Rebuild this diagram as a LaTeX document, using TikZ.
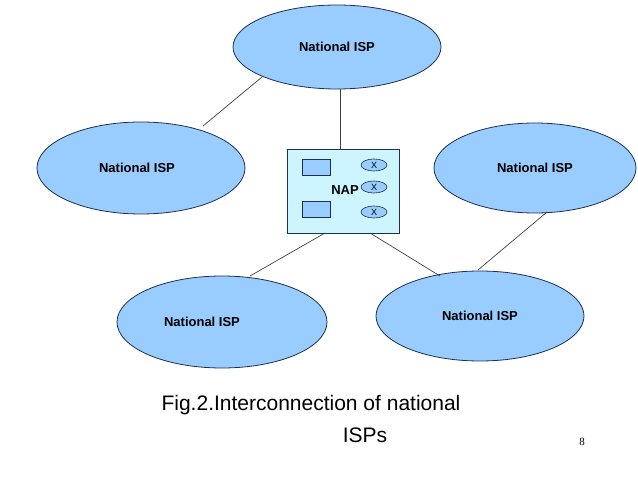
\documentclass[tikz,border=0pt]{standalone}
\usepackage{fontspec}
\setmainfont{Liberation Sans}
\newfontfamily\seriff{Liberation Serif}
\usetikzlibrary{shapes.geometric}
\definecolor{ellfill}{HTML}{99CCFF}
\definecolor{boxfill}{HTML}{CCF5FF}
\definecolor{edge}{HTML}{1F2F4F}
\begin{document}
\begin{tikzpicture}[x=1pt,y=-1pt,
  isp/.style={ellipse,draw=edge,fill=ellfill,line width=0.8pt,font=\bfseries\fontsize{13}{15}\selectfont},
  link/.style={draw=black!75,line width=0.7pt},
  port/.style={draw=edge,fill=ellfill,line width=0.6pt}]
\useasboundingbox (0,0) rectangle (638,478);
\node[isp,minimum width=208pt,minimum height=84pt] (t) at (337,47) {National ISP};
\node[isp,minimum width=208pt,minimum height=92pt] (l) at (141,168) {\hspace*{-8pt}National ISP};
\node[isp,minimum width=202pt,minimum height=90pt] (r) at (535,168) {National ISP};
\node[isp,minimum width=210pt,minimum height=92pt] (bl) at (222,322) {\hspace*{-40pt}National ISP};
\node[isp,minimum width=208pt,minimum height=90pt] (br) at (480,316) {National ISP};
\node[draw=edge,fill=boxfill,line width=0.8pt,minimum width=112pt,minimum height=84pt] (nap) at (343,191) {};
\node[font=\bfseries\fontsize{13}{15}\selectfont] (napt) at (345,190) {NAP};
\node[port,minimum width=28pt,minimum height=16pt] (s1) at (316,167) {};
\node[port,minimum width=28pt,minimum height=16pt] (s2) at (316,209) {};
\foreach \n/\y in {x1/165,x2/187,x3/212}
  \node[port,ellipse,inner sep=0pt,minimum width=26pt,minimum height=12pt,font=\fontsize{9}{10}\selectfont] (\n) at (374,\y) {X};
\coordinate (a1) at (262,77); \coordinate (a2) at (203,126);
\draw[link] (a1) -- (a2);
\draw[link] (t.south -| 340,0) -- (nap.north -| 340,0);
\coordinate (b1) at (325,233); \coordinate (b2) at (250,276);
\draw[link] (b1) -- (b2);
\coordinate (c1) at (370,233); \coordinate (c2) at (440,276);
\draw[link] (c1) -- (c2);
\coordinate (d1) at (547,212); \coordinate (d2) at (478,270);
\draw[link] (d1) -- (d2);
\node[font=\fontsize{21}{25}\selectfont] (cap1) at (311,405) {Fig.2.Interconnection of national};
\node[font=\fontsize{21}{25}\selectfont] (cap2) at (365,435) {ISPs};
\node[font=\seriff\fontsize{11}{13}\selectfont] (pg) at (582,442) {8};
\end{tikzpicture}
\end{document}
